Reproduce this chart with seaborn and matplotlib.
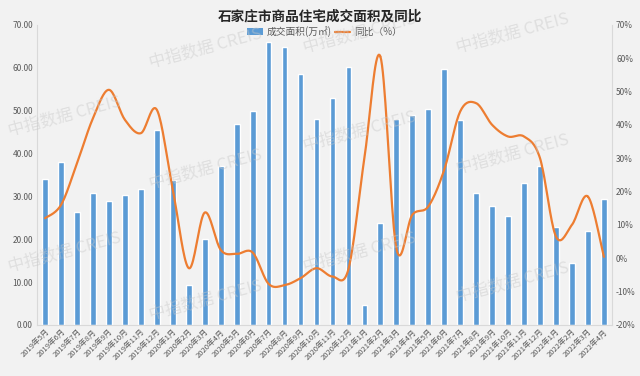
import matplotlib
matplotlib.use('Agg')
import matplotlib.pyplot as plt
import matplotlib.ticker as mticker
from matplotlib.patches import Patch
from matplotlib.lines import Line2D
import seaborn as sns
import numpy as np
import pandas as pd

months = ['2019年5月', '2019年6月', '2019年7月', '2019年8月', '2019年9月', '2019年10月',
          '2019年11月', '2019年12月', '2020年1月', '2020年2月', '2020年3月', '2020年4月',
          '2020年5月', '2020年6月', '2020年7月', '2020年8月', '2020年9月', '2020年10月',
          '2020年11月', '2020年12月', '2021年1月', '2021年2月', '2021年3月', '2021年4月',
          '2021年5月', '2021年6月', '2021年7月', '2021年8月', '2021年9月', '2021年10月',
          '2021年11月', '2021年12月', '2022年1月', '2022年2月', '2022年3月', '2022年4月']
area = [34.0, 38.0, 26.3, 30.7, 28.9, 30.2, 31.8, 45.4, 33.8, 9.4, 20.0, 37.0,
        46.8, 49.9, 66.0, 64.8, 58.6, 48.0, 53.0, 60.1, 4.6, 23.8, 48.1, 49.0,
        50.4, 59.7, 47.8, 30.8, 27.7, 25.3, 33.0, 37.0, 22.9, 14.4, 22.0, 29.4]
yoy = [12.0, 16.0, 28.5, 42.0, 50.5, 41.5, 37.5, 44.5, 20.5, -3.0, 13.7, 2.5,
       1.3, 1.7, -7.7, -8.1, -6.0, -3.0, -5.5, -3.3, 30.0, 60.5, 3.0, 13.0,
       15.5, 26.5, 44.0, 46.5, 40.0, 36.5, 36.5, 30.0, 6.5, 10.0, 18.5, 0.4]

df = pd.DataFrame({'month': months, 'area': area, 'yoy': yoy})

bar_c = '#5b9bd5'
line_c = '#ed7d31'
bg = '#f2f2f2'

sns.set_style('white')
plt.rcParams['font.family'] = ['Noto Sans CJK SC', 'DejaVu Sans']
plt.rcParams['axes.unicode_minus'] = False

fig = plt.figure(figsize=(6.4, 3.76), dpi=100, facecolor=bg)

# watermarks (behind everything)
for wx, wy in [(0.01, 0.64), (0.23, 0.82), (0.47, 0.86), (0.71, 0.86),
               (0.01, 0.28), (0.23, 0.50), (0.47, 0.60), (0.71, 0.54),
               (0.23, 0.15), (0.47, 0.28), (0.71, 0.20)]:
    fig.text(wx, wy, '中指数据 CREIS', fontsize=12, color='#c8c8c8', alpha=0.45,
             rotation=15, zorder=0)

ax = fig.add_axes([0.058, 0.136, 0.898, 0.798])
ax.set_facecolor('none')
sns.barplot(data=df, x='month', y='area', color=bar_c, width=0.36, saturation=1, ax=ax)
ax.set_ylim(0, 70)
ax.set_yticks(np.arange(0, 71, 10))
ax.yaxis.set_major_formatter(mticker.FormatStrFormatter('%.2f'))
ax.set_xlim(-0.5, len(months) - 0.5)
ax.set_xlabel('')
ax.set_ylabel('')

# smooth line like excel (catmull-rom between the monthly points)
ax2 = ax.twinx()
xs = np.arange(len(yoy), dtype=float)
ys = np.array(yoy)
px = np.concatenate([[xs[0]], xs, [xs[-1]]])
py = np.concatenate([[ys[0]], ys, [ys[-1]]])
sx, sy = [], []
t = np.linspace(0, 1, 20)
for i in range(1, len(px) - 2):
    p0, p1, p2, p3 = py[i - 1], py[i], py[i + 1], py[i + 2]
    q0, q1, q2, q3 = px[i - 1], px[i], px[i + 1], px[i + 2]
    sy.extend(0.5 * (2 * p1 + (-p0 + p2) * t + (2 * p0 - 5 * p1 + 4 * p2 - p3) * t**2 + (-p0 + 3 * p1 - 3 * p2 + p3) * t**3))
    sx.extend(0.5 * (2 * q1 + (-q0 + q2) * t + (2 * q0 - 5 * q1 + 4 * q2 - q3) * t**2 + (-q0 + 3 * q1 - 3 * q2 + q3) * t**3))
ax2.plot(sx, sy, color=line_c, lw=1.6)
ax2.set_ylim(-20, 70)
ax2.set_yticks(np.arange(-20, 71, 10))
ax2.yaxis.set_major_formatter(mticker.FuncFormatter(lambda v, p: f'{v:.0f}%'))

for a in (ax, ax2):
    for s in a.spines.values():
        s.set_visible(False)
    a.tick_params(length=0, labelsize=6, colors='#595959', pad=3)
ax.spines['left'].set_visible(True)
ax.spines['left'].set_color('#d9d9d9')
ax.spines['bottom'].set_visible(True)
ax.spines['bottom'].set_color('#d9d9d9')
ax2.spines['right'].set_visible(True)
ax2.spines['right'].set_color('#d9d9d9')
ax.tick_params(axis='x', labelsize=5.5, pad=2)
plt.setp(ax.get_xticklabels(), rotation=45, ha='right', rotation_mode='anchor')

fig.text(0.5, 0.957, '石家庄市商品住宅成交面积及同比', ha='center', va='center',
         fontsize=9.8, fontweight='bold', color='#262626')
handles = [Patch(facecolor=bar_c, edgecolor='none'),
           Line2D([], [], color=line_c, lw=1.6)]
ax2.legend(handles, ['成交面积(万㎡)', '同比（%）'], loc='center',
           bbox_to_anchor=(0.5, 0.977), ncol=2, frameon=False, fontsize=7,
           handlelength=1.6, handleheight=0.7, handletextpad=0.4,
           columnspacing=0.3, labelcolor='#595959')

fig.savefig('out.png', dpi=100, facecolor=bg)
